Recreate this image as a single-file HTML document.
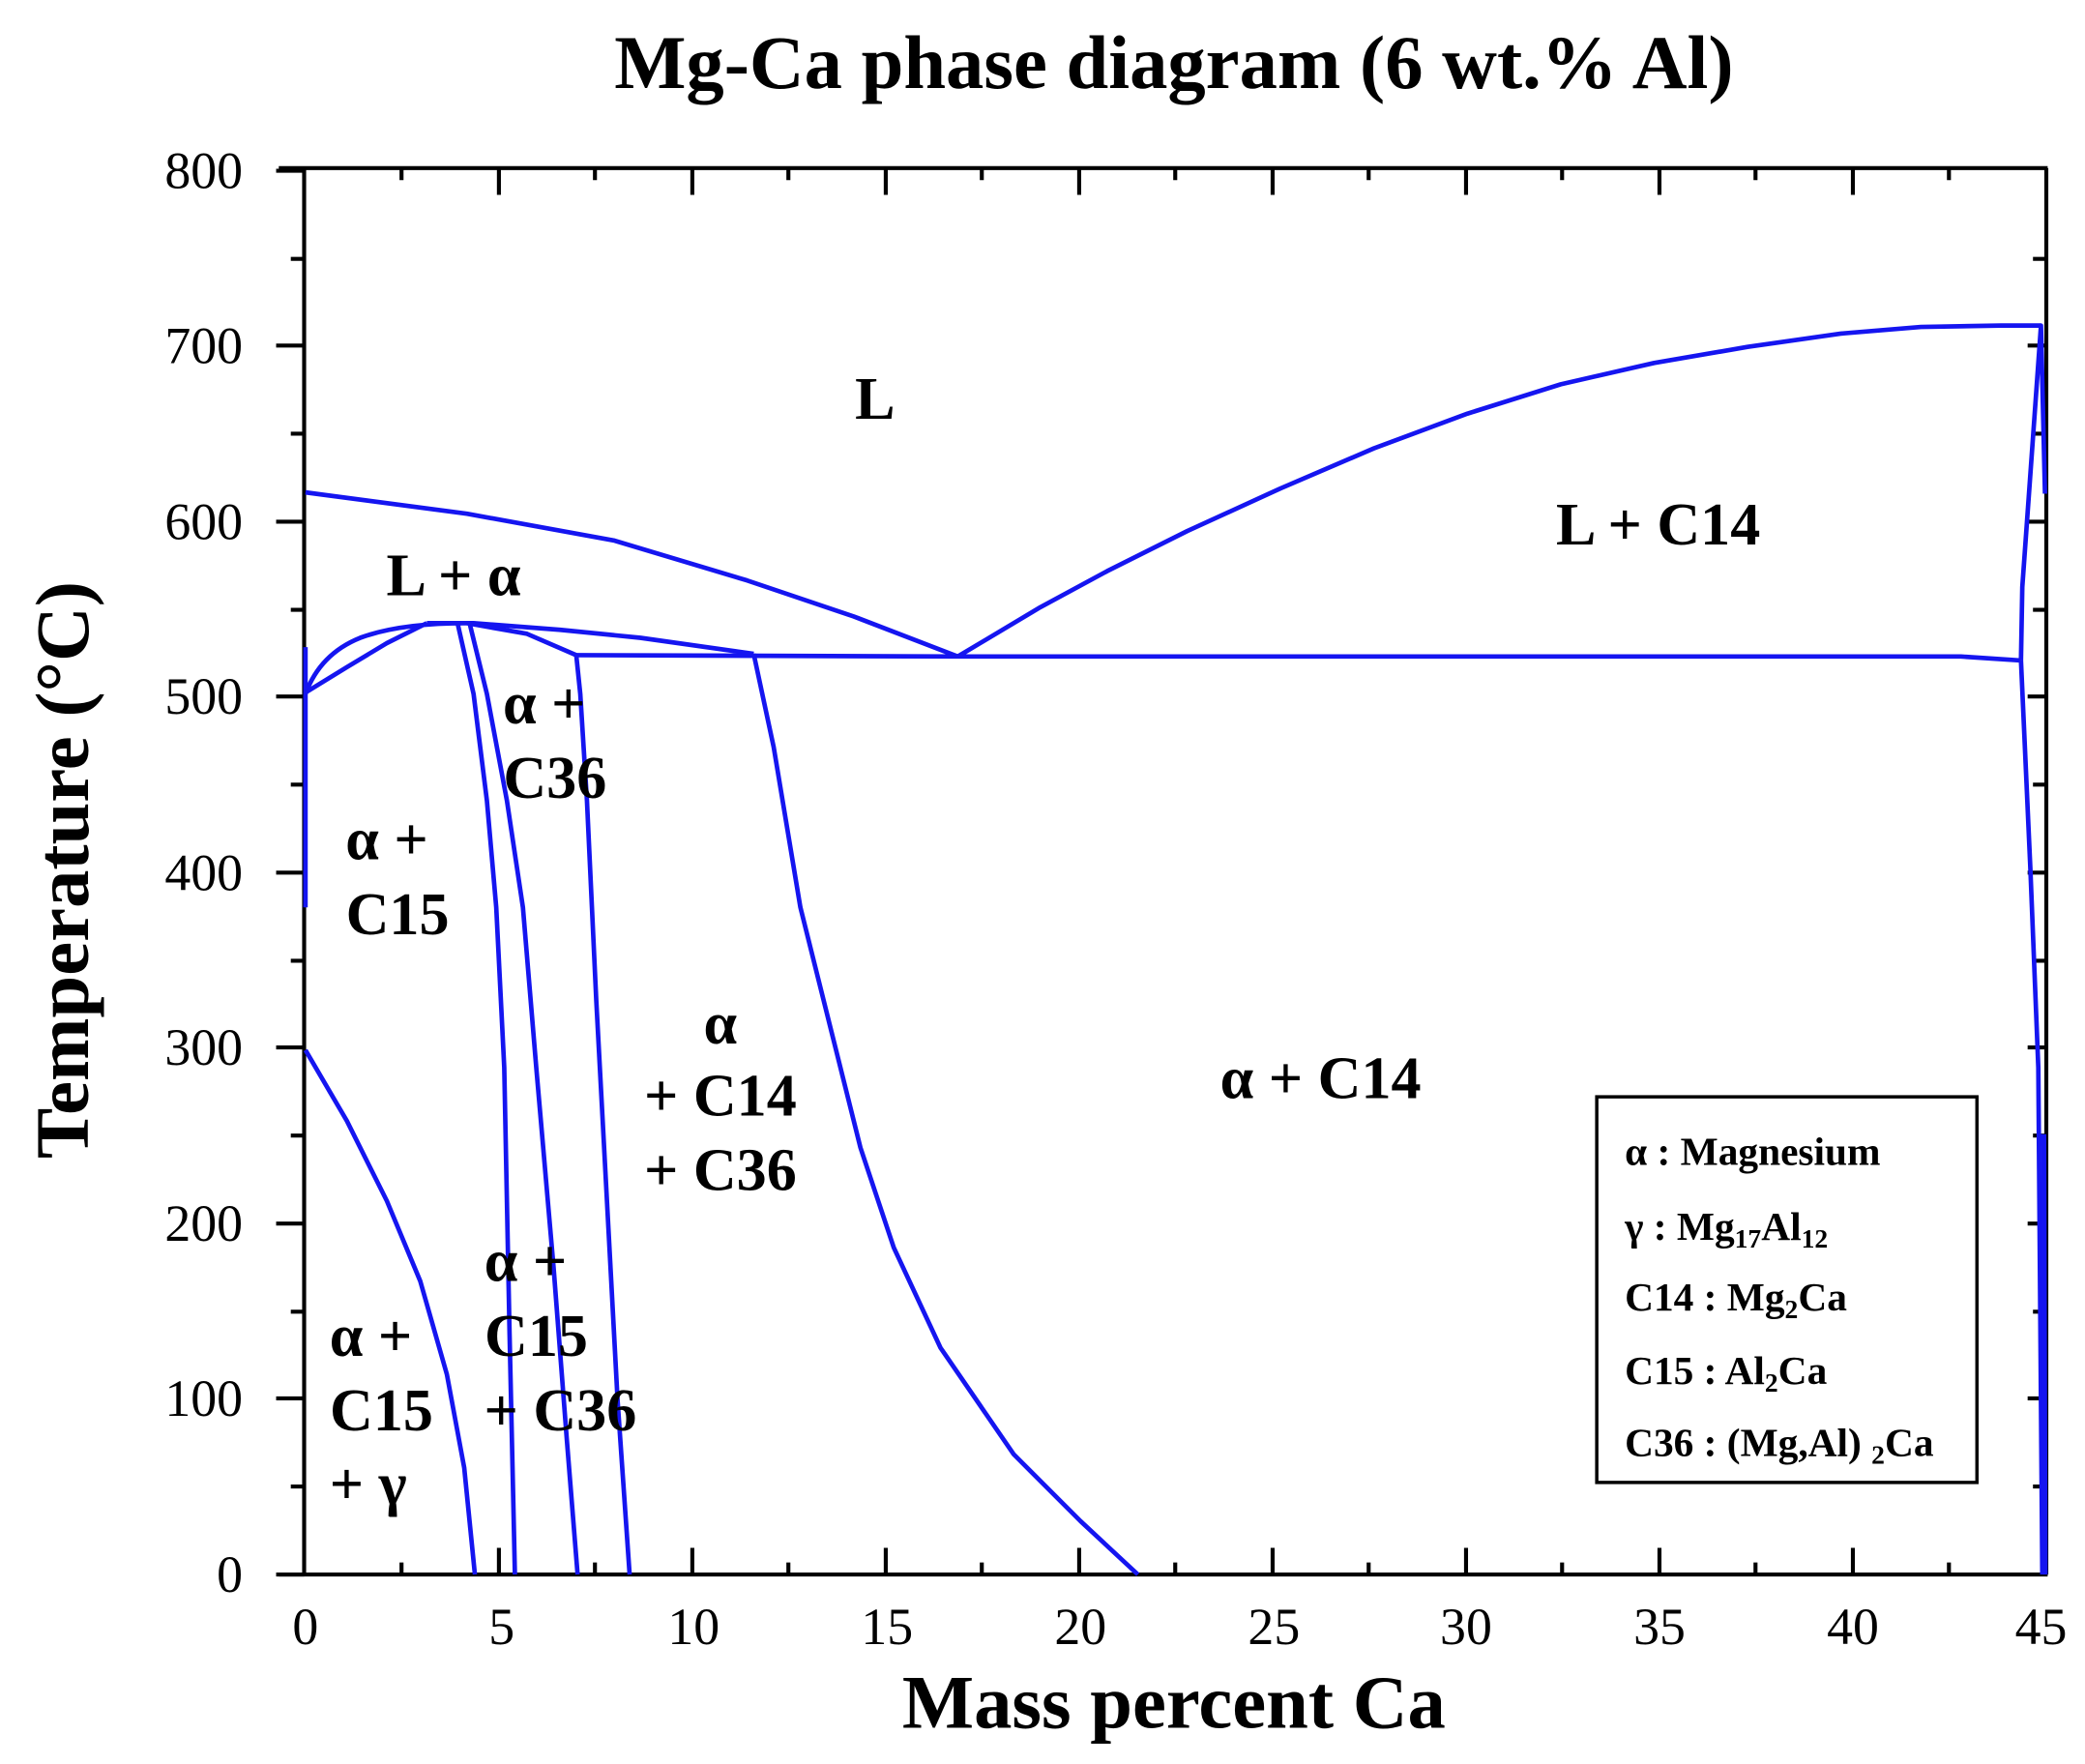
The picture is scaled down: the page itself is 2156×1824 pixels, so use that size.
<!DOCTYPE html>
<html><head><meta charset="utf-8"><style>
html,body{margin:0;padding:0;background:#fff}
svg{display:block}
text{font-family:"Liberation Serif",serif;fill:#000}
.b{font-weight:bold}
</style></head><body>
<svg width="2156" height="1824" viewBox="0 0 1563 1322" preserveAspectRatio="none" xmlns="http://www.w3.org/2000/svg">
<text x="880" y="66" text-anchor="middle" class="b" font-size="57">Mg-Ca phase diagram (6 wt.% Al)</text>
<g stroke="#000" stroke-width="3" fill="none">
<line x1="209" y1="126" x2="1535" y2="126"/>
<line x1="209" y1="1180" x2="1535" y2="1180"/>
<line x1="228" y1="126" x2="228" y2="1180"/>
<line x1="1534" y1="126" x2="1534" y2="1180"/>
<path d="
M207 1180H228 M207 1048H228 M207 917H228 M207 785H228 M207 654H228 M207 522H228 M207 391H228 M207 259H228 M207 128H228
M218 1114H228 M218 983H228 M218 851H228 M218 720H228 M218 588H228 M218 457H228 M218 325H228 M218 194H228
M1534 1114H1524 M1534 1048H1520 M1534 983H1524 M1534 917H1520 M1534 851H1524 M1534 785H1520 M1534 720H1524 M1534 654H1520 M1534 588H1524 M1534 522H1520 M1534 457H1524 M1534 391H1520 M1534 325H1524 M1534 259H1520 M1534 194H1524
M374 126V146 M519 126V146 M664 126V146 M809 126V146 M954 126V146 M1099 126V146 M1244 126V146 M1389 126V146
M301 126V135 M446 126V135 M591 126V135 M736 126V135 M881 126V135 M1026 126V135 M1171 126V135 M1316 126V135 M1461 126V135
M374 1180V1160 M519 1180V1160 M664 1180V1160 M809 1180V1160 M954 1180V1160 M1099 1180V1160 M1244 1180V1160 M1389 1180V1160
M301 1180V1171 M446 1180V1171 M591 1180V1171 M736 1180V1171 M881 1180V1171 M1026 1180V1171 M1171 1180V1171 M1316 1180V1171 M1461 1180V1171
"/>
</g>
<g font-size="39" text-anchor="end">
<text x="182" y="1193">0</text><text x="182" y="1061">100</text><text x="182" y="930">200</text><text x="182" y="798">300</text><text x="182" y="667">400</text><text x="182" y="535">500</text><text x="182" y="404">600</text><text x="182" y="272">700</text><text x="182" y="141">800</text>
</g>
<g font-size="39" text-anchor="middle">
<text x="229" y="1232">0</text><text x="376" y="1232">5</text><text x="520" y="1232">10</text><text x="665" y="1232">15</text><text x="810" y="1232">20</text><text x="955" y="1232">25</text><text x="1099" y="1232">30</text><text x="1244" y="1232">35</text><text x="1389" y="1232">40</text><text x="1530" y="1232">45</text>
</g>
<text x="880" y="1295" text-anchor="middle" class="b" font-size="57">Mass percent Ca</text>
<text transform="translate(66,652) rotate(-90)" text-anchor="middle" class="b" font-size="57">Temperature (°C)</text>
<g stroke="#1515f0" stroke-width="3.4" fill="none" stroke-linejoin="round">
<path d="M229 369 L350 385 L460 405 L560 435 L640 462 L718 492"/>
<path d="M718 492 L780 455 L830 428 L890 398 L960 366 L1030 336 L1100 310 L1170 288 L1240 272 L1310 260 L1380 250 L1440 245 L1500 244 L1530 244"/>
<path d="M432 491 L718 492 L1470 492 L1515 495"/>
<path d="M1515 495 L1516 440 L1530 244 L1533 370"/>
<path d="M1515 495 L1522 650 L1528 800 L1531 1180"/>
<path d="M1532 850 L1533 1180" stroke-width="4"/>
<path d="M229 485 V680"/>
<path d="M229 520 Q240 490 270 478 Q300 467 350 467"/>
<path d="M229 519 L260 500 L290 482 L320 467"/>
<path d="M320 467 L355 467 L420 472 L480 478 L565 490"/>
<path d="M350 467 L395 475 L432 491"/>
<path d="M343 467 L355 520 L365 600 L372 680 L378 800 L382 1000 L386 1180"/>
<path d="M352 467 L365 520 L380 600 L392 680 L402 800 L415 950 L425 1080 L433 1180"/>
<path d="M432 491 L435 520 L440 600 L447 750 L455 900 L463 1050 L472 1180"/>
<path d="M565 490 L580 560 L600 680 L625 780 L645 860 L670 935 L705 1010 L760 1090 L810 1140 L853 1180"/>
<path d="M229 787 L260 840 L290 900 L315 960 L335 1030 L348 1100 L356 1180"/>
</g>
<g class="b" font-size="45" text-anchor="middle">
<text x="656" y="314">L</text>
<text x="1243" y="408">L + C14</text>
<text x="340" y="446">L + α</text>
<text x="408" y="542">α +</text>
<text x="416" y="598">C36</text>
<text x="290" y="644">α +</text>
<text x="298" y="700">C15</text>
<text x="540" y="782">α</text>
<text x="540" y="836">+ C14</text>
<text x="540" y="892">+ C36</text>
<text x="990" y="823">α + C14</text>
<text x="394" y="960">α +</text>
<text x="402" y="1016">C15</text>
<text x="420" y="1072">+ C36</text>
<text x="278" y="1016">α +</text>
<text x="286" y="1072">C15</text>
<text x="276" y="1127">+ γ</text>
</g>
<rect x="1197" y="822" width="285" height="289" fill="none" stroke="#000" stroke-width="2.5"/>
<g class="b" font-size="30">
<text x="1218" y="873">α : Magnesium</text>
<text x="1218" y="929">γ : Mg<tspan font-size="20" dy="6">17</tspan><tspan dy="-6">Al</tspan><tspan font-size="20" dy="6">12</tspan></text>
<text x="1218" y="982">C14 : Mg<tspan font-size="20" dy="6">2</tspan><tspan dy="-6">Ca</tspan></text>
<text x="1218" y="1037">C15 : Al<tspan font-size="20" dy="6">2</tspan><tspan dy="-6">Ca</tspan></text>
<text x="1218" y="1091">C36 : (Mg,Al) <tspan font-size="20" dy="6">2</tspan><tspan dy="-6">Ca</tspan></text>
</g>
</svg>
</body></html>
